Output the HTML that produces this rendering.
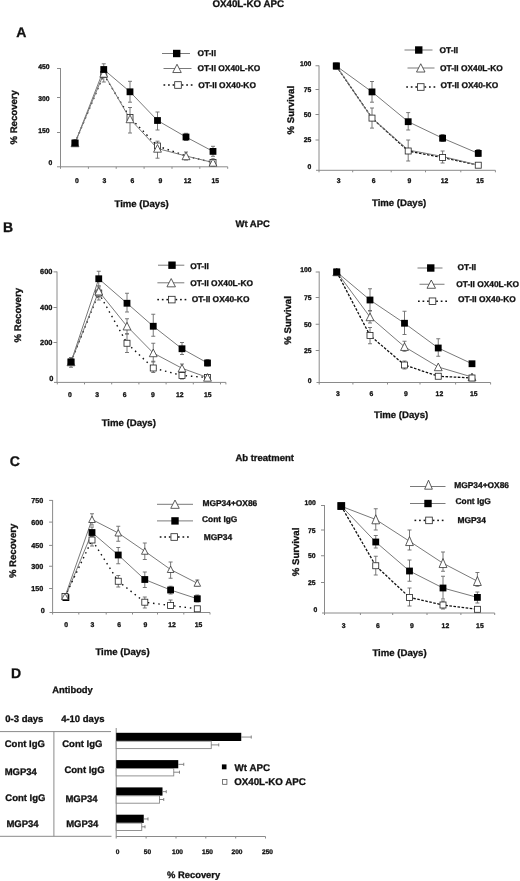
<!DOCTYPE html>
<html><head><meta charset="utf-8"><title>Figure</title><style>html,body{margin:0;padding:0;background:#fff;}body{width:520px;height:881px;overflow:hidden;}svg{display:block;}text{stroke:#111;stroke-width:0.3px;text-rendering:geometricPrecision;}</style></head><body>
<svg width="520" height="881" viewBox="0 0 520 881" font-family="'Liberation Sans', Arial, Helvetica, sans-serif" font-weight="bold" fill="#111">
<rect width="520" height="881" fill="#fff"/>
<text x="248.3" y="7.0" font-size="9.75" text-anchor="middle">OX40L-KO APC</text>
<text x="16.3" y="36.9" font-size="14" text-anchor="start">A</text>
<text x="3.0" y="231.5" font-size="14" text-anchor="start">B</text>
<text x="252.7" y="227.3" font-size="9.5" text-anchor="middle">Wt APC</text>
<text x="9.8" y="465.6" font-size="14" text-anchor="start">C</text>
<text x="264.7" y="461.3" font-size="9.5" text-anchor="middle">Ab treatment</text>
<text x="10.9" y="678.1" font-size="14" text-anchor="start">D</text>
<line x1="60.5" y1="68" x2="60.5" y2="167.3" stroke="#8a8a8a" stroke-width="1"/>
<line x1="57.0" y1="68.5" x2="60.5" y2="68.5" stroke="#8a8a8a" stroke-width="1"/>
<line x1="57.0" y1="97.5" x2="60.5" y2="97.5" stroke="#8a8a8a" stroke-width="1"/>
<line x1="57.0" y1="132.5" x2="60.5" y2="132.5" stroke="#8a8a8a" stroke-width="1"/>
<line x1="57" y1="166.8" x2="227.7" y2="166.8" stroke="#8a8a8a" stroke-width="1"/>
<line x1="60.5" y1="166.8" x2="60.5" y2="168.8" stroke="#8a8a8a" stroke-width="1"/>
<line x1="88.4" y1="166.8" x2="88.4" y2="168.8" stroke="#8a8a8a" stroke-width="1"/>
<line x1="116.2" y1="166.8" x2="116.2" y2="168.8" stroke="#8a8a8a" stroke-width="1"/>
<line x1="144.1" y1="166.8" x2="144.1" y2="168.8" stroke="#8a8a8a" stroke-width="1"/>
<line x1="172.0" y1="166.8" x2="172.0" y2="168.8" stroke="#8a8a8a" stroke-width="1"/>
<line x1="199.8" y1="166.8" x2="199.8" y2="168.8" stroke="#8a8a8a" stroke-width="1"/>
<line x1="227.7" y1="166.8" x2="227.7" y2="168.8" stroke="#8a8a8a" stroke-width="1"/>
<text x="49.6" y="68.7" font-size="6.8" text-anchor="end">450</text>
<text x="49.6" y="101.0" font-size="6.8" text-anchor="end">300</text>
<text x="49.6" y="133.0" font-size="6.8" text-anchor="end">150</text>
<text x="52.3" y="165.3" font-size="6.8" text-anchor="end">0</text>
<text x="77" y="183.3" font-size="6.8" text-anchor="middle">0</text>
<text x="104.5" y="183.3" font-size="6.8" text-anchor="middle">3</text>
<text x="132.5" y="183.3" font-size="6.8" text-anchor="middle">6</text>
<text x="160.3" y="183.3" font-size="6.8" text-anchor="middle">9</text>
<text x="187.5" y="183.3" font-size="6.8" text-anchor="middle">12</text>
<text x="215.2" y="183.3" font-size="6.8" text-anchor="middle">15</text>
<text x="141.6" y="206.8" font-size="9.6" text-anchor="middle">Time (Days)</text>
<text x="0" y="0" font-size="9.6" text-anchor="middle" transform="translate(17.2,117.3) rotate(-90)">% Recovery</text>
<polyline points="75.00,143.00 103.75,74.50 130.00,117.50 157.50,146.00 186.00,156.00 213.00,162.50" fill="none" stroke="#111" stroke-width="1.4" stroke-dasharray="1.5 3.8"/>
<polyline points="75.00,143.00 103.75,73.50 130.00,119.00 157.50,148.50 186.00,156.00 213.00,162.50" fill="none" stroke="#7a7a7a" stroke-width="1.0"/>
<polyline points="75.00,143.10 103.75,69.50 130.00,91.80 157.50,120.50 186.00,137.00 213.00,151.40" fill="none" stroke="#7a7a7a" stroke-width="1.0"/>
<line x1="103.75" y1="72" x2="103.75" y2="72.01" stroke="#6a6a6a" stroke-width="1"/>
<line x1="101.75" y1="72" x2="105.75" y2="72" stroke="#6a6a6a" stroke-width="0.9"/>
<line x1="101.75" y1="82" x2="105.75" y2="82" stroke="#6a6a6a" stroke-width="0.9"/>
<line x1="103.75" y1="72" x2="103.75" y2="82" stroke="#6a6a6a" stroke-width="0.9"/>
<line x1="130" y1="107.5" x2="130" y2="107.51" stroke="#6a6a6a" stroke-width="1"/>
<line x1="128.0" y1="107.5" x2="132.0" y2="107.5" stroke="#6a6a6a" stroke-width="0.9"/>
<line x1="128.0" y1="133" x2="132.0" y2="133" stroke="#6a6a6a" stroke-width="0.9"/>
<line x1="130" y1="107.5" x2="130" y2="133" stroke="#6a6a6a" stroke-width="0.9"/>
<line x1="157.5" y1="141.2" x2="157.5" y2="141.20999999999998" stroke="#6a6a6a" stroke-width="1"/>
<line x1="155.5" y1="141.2" x2="159.5" y2="141.2" stroke="#6a6a6a" stroke-width="0.9"/>
<line x1="155.5" y1="158.2" x2="159.5" y2="158.2" stroke="#6a6a6a" stroke-width="0.9"/>
<line x1="157.5" y1="141.2" x2="157.5" y2="158.2" stroke="#6a6a6a" stroke-width="0.9"/>
<line x1="186" y1="152" x2="186" y2="152.01" stroke="#6a6a6a" stroke-width="1"/>
<line x1="184.0" y1="152" x2="188.0" y2="152" stroke="#6a6a6a" stroke-width="0.9"/>
<line x1="184.0" y1="160" x2="188.0" y2="160" stroke="#6a6a6a" stroke-width="0.9"/>
<line x1="186" y1="152" x2="186" y2="160" stroke="#6a6a6a" stroke-width="0.9"/>
<line x1="213" y1="159" x2="213" y2="159.01" stroke="#6a6a6a" stroke-width="1"/>
<line x1="211.0" y1="159" x2="215.0" y2="159" stroke="#6a6a6a" stroke-width="0.9"/>
<line x1="211.0" y1="166" x2="215.0" y2="166" stroke="#6a6a6a" stroke-width="0.9"/>
<line x1="213" y1="159" x2="213" y2="166" stroke="#6a6a6a" stroke-width="0.9"/>
<line x1="75" y1="140" x2="75" y2="140.01" stroke="#6a6a6a" stroke-width="1"/>
<line x1="73.0" y1="140" x2="77.0" y2="140" stroke="#6a6a6a" stroke-width="0.9"/>
<line x1="73.0" y1="146" x2="77.0" y2="146" stroke="#6a6a6a" stroke-width="0.9"/>
<line x1="75" y1="140" x2="75" y2="146" stroke="#6a6a6a" stroke-width="0.9"/>
<line x1="103.75" y1="63.8" x2="103.75" y2="63.809999999999995" stroke="#6a6a6a" stroke-width="1"/>
<line x1="101.75" y1="63.8" x2="105.75" y2="63.8" stroke="#6a6a6a" stroke-width="0.9"/>
<line x1="101.75" y1="73" x2="105.75" y2="73" stroke="#6a6a6a" stroke-width="0.9"/>
<line x1="103.75" y1="63.8" x2="103.75" y2="73" stroke="#6a6a6a" stroke-width="0.9"/>
<line x1="130" y1="81.3" x2="130" y2="81.31" stroke="#6a6a6a" stroke-width="1"/>
<line x1="128.0" y1="81.3" x2="132.0" y2="81.3" stroke="#6a6a6a" stroke-width="0.9"/>
<line x1="128.0" y1="102.2" x2="132.0" y2="102.2" stroke="#6a6a6a" stroke-width="0.9"/>
<line x1="130" y1="81.3" x2="130" y2="102.2" stroke="#6a6a6a" stroke-width="0.9"/>
<line x1="157.5" y1="112" x2="157.5" y2="112.01" stroke="#6a6a6a" stroke-width="1"/>
<line x1="155.5" y1="112" x2="159.5" y2="112" stroke="#6a6a6a" stroke-width="0.9"/>
<line x1="155.5" y1="130" x2="159.5" y2="130" stroke="#6a6a6a" stroke-width="0.9"/>
<line x1="157.5" y1="112" x2="157.5" y2="130" stroke="#6a6a6a" stroke-width="0.9"/>
<line x1="186" y1="133.3" x2="186" y2="133.31" stroke="#6a6a6a" stroke-width="1"/>
<line x1="184.0" y1="133.3" x2="188.0" y2="133.3" stroke="#6a6a6a" stroke-width="0.9"/>
<line x1="184.0" y1="140.5" x2="188.0" y2="140.5" stroke="#6a6a6a" stroke-width="0.9"/>
<line x1="186" y1="133.3" x2="186" y2="140.5" stroke="#6a6a6a" stroke-width="0.9"/>
<line x1="213" y1="146.3" x2="213" y2="146.31" stroke="#6a6a6a" stroke-width="1"/>
<line x1="211.0" y1="146.3" x2="215.0" y2="146.3" stroke="#6a6a6a" stroke-width="0.9"/>
<line x1="211.0" y1="156.3" x2="215.0" y2="156.3" stroke="#6a6a6a" stroke-width="0.9"/>
<line x1="213" y1="146.3" x2="213" y2="156.3" stroke="#6a6a6a" stroke-width="0.9"/>
<rect x="72.00" y="140.00" width="6.00" height="6.00" fill="#fff" stroke="#222" stroke-width="0.8"/>
<rect x="100.75" y="71.50" width="6.00" height="6.00" fill="#fff" stroke="#222" stroke-width="0.8"/>
<rect x="127.00" y="114.50" width="6.00" height="6.00" fill="#fff" stroke="#222" stroke-width="0.8"/>
<rect x="154.50" y="143.00" width="6.00" height="6.00" fill="#fff" stroke="#222" stroke-width="0.8"/>
<rect x="210.00" y="159.50" width="6.00" height="6.00" fill="#fff" stroke="#222" stroke-width="0.8"/>
<polygon points="75.00,139.09 78.91,146.71 71.09,146.71" fill="#fff" stroke="#333" stroke-width="0.8"/>
<polygon points="103.75,69.59 107.66,77.21 99.84,77.21" fill="#fff" stroke="#333" stroke-width="0.8"/>
<polygon points="130.00,115.09 133.91,122.71 126.09,122.71" fill="#fff" stroke="#333" stroke-width="0.8"/>
<polygon points="157.50,144.59 161.41,152.21 153.59,152.21" fill="#fff" stroke="#333" stroke-width="0.8"/>
<polygon points="186.00,152.09 189.91,159.71 182.09,159.71" fill="#fff" stroke="#333" stroke-width="0.8"/>
<polygon points="213.00,158.59 216.91,166.21 209.09,166.21" fill="#fff" stroke="#333" stroke-width="0.8"/>
<rect x="71.60" y="139.70" width="6.8" height="6.8" fill="#000"/>
<rect x="100.35" y="66.10" width="6.8" height="6.8" fill="#000"/>
<rect x="126.60" y="88.40" width="6.8" height="6.8" fill="#000"/>
<rect x="154.10" y="117.10" width="6.8" height="6.8" fill="#000"/>
<rect x="182.60" y="133.60" width="6.8" height="6.8" fill="#000"/>
<rect x="209.60" y="148.00" width="6.8" height="6.8" fill="#000"/>
<line x1="162" y1="53.5" x2="190" y2="53.5" stroke="#7a7a7a" stroke-width="1.0"/>
<rect x="173.00" y="49.80" width="7.4" height="7.4" fill="#000"/>
<text x="197.4" y="55.9" font-size="8.4" text-anchor="start">OT-II</text>
<line x1="163.5" y1="68.5" x2="191.5" y2="68.5" stroke="#7a7a7a" stroke-width="1.0"/>
<polygon points="177.00,64.25 181.25,72.54 172.75,72.54" fill="#fff" stroke="#333" stroke-width="0.8"/>
<text x="197.4" y="71.45" font-size="8.4" text-anchor="start">OT-II OX40L-KO</text>
<rect x="172.60" y="84.25" width="1.7" height="1.5" fill="#111"/>
<rect x="181.70" y="84.25" width="1.7" height="1.5" fill="#111"/>
<rect x="168.05" y="84.25" width="1.7" height="1.5" fill="#111"/>
<rect x="186.25" y="84.25" width="1.7" height="1.5" fill="#111"/>
<rect x="163.50" y="84.25" width="1.7" height="1.5" fill="#111"/>
<rect x="190.80" y="84.25" width="1.7" height="1.5" fill="#111"/>
<rect x="174.70" y="81.70" width="6.60" height="6.60" fill="#fff" stroke="#222" stroke-width="0.8"/>
<text x="198.2" y="87.9" font-size="8.4" text-anchor="start">OT-II OX40-KO</text>
<line x1="319" y1="65.5" x2="319" y2="170.8" stroke="#8a8a8a" stroke-width="1"/>
<line x1="315.5" y1="65.75" x2="319" y2="65.75" stroke="#8a8a8a" stroke-width="1"/>
<line x1="315.5" y1="89.5" x2="319" y2="89.5" stroke="#8a8a8a" stroke-width="1"/>
<line x1="315.5" y1="114.5" x2="319" y2="114.5" stroke="#8a8a8a" stroke-width="1"/>
<line x1="315.5" y1="140" x2="319" y2="140" stroke="#8a8a8a" stroke-width="1"/>
<line x1="316" y1="170.3" x2="495.4" y2="170.3" stroke="#8a8a8a" stroke-width="1"/>
<line x1="319" y1="170.3" x2="319" y2="172.3" stroke="#8a8a8a" stroke-width="1"/>
<line x1="352.7" y1="170.3" x2="352.7" y2="172.3" stroke="#8a8a8a" stroke-width="1"/>
<line x1="391.2" y1="170.3" x2="391.2" y2="172.3" stroke="#8a8a8a" stroke-width="1"/>
<line x1="425.5" y1="170.3" x2="425.5" y2="172.3" stroke="#8a8a8a" stroke-width="1"/>
<line x1="460.8" y1="170.3" x2="460.8" y2="172.3" stroke="#8a8a8a" stroke-width="1"/>
<line x1="495.4" y1="170.3" x2="495.4" y2="172.3" stroke="#8a8a8a" stroke-width="1"/>
<text x="311.4" y="65.6" font-size="6.8" text-anchor="end">100</text>
<text x="311.4" y="92.0" font-size="6.8" text-anchor="end">75</text>
<text x="311.4" y="116.8" font-size="6.8" text-anchor="end">50</text>
<text x="311.4" y="142.3" font-size="6.8" text-anchor="end">25</text>
<text x="311.4" y="168.6" font-size="6.8" text-anchor="end">0</text>
<text x="338.75" y="183.3" font-size="6.8" text-anchor="middle">3</text>
<text x="373.75" y="183.3" font-size="6.8" text-anchor="middle">6</text>
<text x="409.5" y="183.3" font-size="6.8" text-anchor="middle">9</text>
<text x="444.5" y="183.3" font-size="6.8" text-anchor="middle">12</text>
<text x="480" y="183.3" font-size="6.8" text-anchor="middle">15</text>
<text x="399.1" y="205.8" font-size="9.6" text-anchor="middle">Time (Days)</text>
<text x="0" y="0" font-size="9.6" text-anchor="middle" transform="translate(293.8,110.2) rotate(-90)">% Survival</text>
<polyline points="336.30,66.00 372.00,118.10 408.20,151.00 442.60,157.50 478.25,165.20" fill="none" stroke="#111" stroke-width="1.3" stroke-dasharray="2.6 1.5"/>
<polyline points="336.30,66.00 372.00,118.10 408.20,150.00 442.60,156.50 478.25,165.00" fill="none" stroke="#7a7a7a" stroke-width="1.0"/>
<polyline points="336.30,66.00 372.00,91.90 408.20,121.70 442.60,138.20 478.25,153.40" fill="none" stroke="#7a7a7a" stroke-width="1.0"/>
<line x1="372" y1="108" x2="372" y2="108.01" stroke="#6a6a6a" stroke-width="1"/>
<line x1="370.0" y1="108" x2="374.0" y2="108" stroke="#6a6a6a" stroke-width="0.9"/>
<line x1="370.0" y1="128.1" x2="374.0" y2="128.1" stroke="#6a6a6a" stroke-width="0.9"/>
<line x1="372" y1="108" x2="372" y2="128.1" stroke="#6a6a6a" stroke-width="0.9"/>
<line x1="408.2" y1="140" x2="408.2" y2="140.01" stroke="#6a6a6a" stroke-width="1"/>
<line x1="406.2" y1="140" x2="410.2" y2="140" stroke="#6a6a6a" stroke-width="0.9"/>
<line x1="406.2" y1="161" x2="410.2" y2="161" stroke="#6a6a6a" stroke-width="0.9"/>
<line x1="408.2" y1="140" x2="408.2" y2="161" stroke="#6a6a6a" stroke-width="0.9"/>
<line x1="442.6" y1="151" x2="442.6" y2="151.01" stroke="#6a6a6a" stroke-width="1"/>
<line x1="440.6" y1="151" x2="444.6" y2="151" stroke="#6a6a6a" stroke-width="0.9"/>
<line x1="440.6" y1="163" x2="444.6" y2="163" stroke="#6a6a6a" stroke-width="0.9"/>
<line x1="442.6" y1="151" x2="442.6" y2="163" stroke="#6a6a6a" stroke-width="0.9"/>
<line x1="336.3" y1="63" x2="336.3" y2="63.01" stroke="#6a6a6a" stroke-width="1"/>
<line x1="334.3" y1="63" x2="338.3" y2="63" stroke="#6a6a6a" stroke-width="0.9"/>
<line x1="334.3" y1="69" x2="338.3" y2="69" stroke="#6a6a6a" stroke-width="0.9"/>
<line x1="336.3" y1="63" x2="336.3" y2="69" stroke="#6a6a6a" stroke-width="0.9"/>
<line x1="372" y1="81.5" x2="372" y2="81.51" stroke="#6a6a6a" stroke-width="1"/>
<line x1="370.0" y1="81.5" x2="374.0" y2="81.5" stroke="#6a6a6a" stroke-width="0.9"/>
<line x1="370.0" y1="102.2" x2="374.0" y2="102.2" stroke="#6a6a6a" stroke-width="0.9"/>
<line x1="372" y1="81.5" x2="372" y2="102.2" stroke="#6a6a6a" stroke-width="0.9"/>
<line x1="408.2" y1="112.6" x2="408.2" y2="112.61" stroke="#6a6a6a" stroke-width="1"/>
<line x1="406.2" y1="112.6" x2="410.2" y2="112.6" stroke="#6a6a6a" stroke-width="0.9"/>
<line x1="406.2" y1="130" x2="410.2" y2="130" stroke="#6a6a6a" stroke-width="0.9"/>
<line x1="408.2" y1="112.6" x2="408.2" y2="130" stroke="#6a6a6a" stroke-width="0.9"/>
<line x1="442.6" y1="134.5" x2="442.6" y2="134.51" stroke="#6a6a6a" stroke-width="1"/>
<line x1="440.6" y1="134.5" x2="444.6" y2="134.5" stroke="#6a6a6a" stroke-width="0.9"/>
<line x1="440.6" y1="141.5" x2="444.6" y2="141.5" stroke="#6a6a6a" stroke-width="0.9"/>
<line x1="442.6" y1="134.5" x2="442.6" y2="141.5" stroke="#6a6a6a" stroke-width="0.9"/>
<line x1="478.25" y1="149.5" x2="478.25" y2="149.51" stroke="#6a6a6a" stroke-width="1"/>
<line x1="476.25" y1="149.5" x2="480.25" y2="149.5" stroke="#6a6a6a" stroke-width="0.9"/>
<line x1="476.25" y1="156.5" x2="480.25" y2="156.5" stroke="#6a6a6a" stroke-width="0.9"/>
<line x1="478.25" y1="149.5" x2="478.25" y2="156.5" stroke="#6a6a6a" stroke-width="0.9"/>
<rect x="333.30" y="63.00" width="6.00" height="6.00" fill="#fff" stroke="#222" stroke-width="0.8"/>
<rect x="369.00" y="115.10" width="6.00" height="6.00" fill="#fff" stroke="#222" stroke-width="0.8"/>
<rect x="405.20" y="148.00" width="6.00" height="6.00" fill="#fff" stroke="#222" stroke-width="0.8"/>
<rect x="439.60" y="154.50" width="6.00" height="6.00" fill="#fff" stroke="#222" stroke-width="0.8"/>
<rect x="475.25" y="162.20" width="6.00" height="6.00" fill="#fff" stroke="#222" stroke-width="0.8"/>
<rect x="332.90" y="62.60" width="6.8" height="6.8" fill="#000"/>
<rect x="368.60" y="88.50" width="6.8" height="6.8" fill="#000"/>
<rect x="404.80" y="118.30" width="6.8" height="6.8" fill="#000"/>
<rect x="439.20" y="134.80" width="6.8" height="6.8" fill="#000"/>
<rect x="474.85" y="150.00" width="6.8" height="6.8" fill="#000"/>
<line x1="404.5" y1="50" x2="432.5" y2="50" stroke="#7a7a7a" stroke-width="1.0"/>
<rect x="415.05" y="46.30" width="7.4" height="7.4" fill="#000"/>
<text x="439.5" y="53.25" font-size="8.4" text-anchor="start">OT-II</text>
<line x1="407.5" y1="68" x2="434.5" y2="68" stroke="#7a7a7a" stroke-width="1.0"/>
<polygon points="420.75,63.74 425.00,72.04 416.50,72.04" fill="#fff" stroke="#333" stroke-width="0.8"/>
<text x="440" y="70.85" font-size="8.4" text-anchor="start">OT-II OX40L-KO</text>
<rect x="415.35" y="86.25" width="1.7" height="1.5" fill="#111"/>
<rect x="424.45" y="86.25" width="1.7" height="1.5" fill="#111"/>
<rect x="410.80" y="86.25" width="1.7" height="1.5" fill="#111"/>
<rect x="429.00" y="86.25" width="1.7" height="1.5" fill="#111"/>
<rect x="406.25" y="86.25" width="1.7" height="1.5" fill="#111"/>
<rect x="433.55" y="86.25" width="1.7" height="1.5" fill="#111"/>
<rect x="417.45" y="83.70" width="6.60" height="6.60" fill="#fff" stroke="#222" stroke-width="0.8"/>
<text x="440.5" y="88.25" font-size="8.4" text-anchor="start">OT-II OX40-KO</text>
<line x1="57" y1="271.5" x2="57" y2="382.9" stroke="#8a8a8a" stroke-width="1"/>
<line x1="53.5" y1="271.9" x2="57" y2="271.9" stroke="#8a8a8a" stroke-width="1"/>
<line x1="53.5" y1="307.5" x2="57" y2="307.5" stroke="#8a8a8a" stroke-width="1"/>
<line x1="53.5" y1="342.5" x2="57" y2="342.5" stroke="#8a8a8a" stroke-width="1"/>
<line x1="54" y1="382.4" x2="225.9" y2="382.4" stroke="#8a8a8a" stroke-width="1"/>
<line x1="57.3" y1="382.4" x2="57.3" y2="384.4" stroke="#8a8a8a" stroke-width="1"/>
<line x1="84.5" y1="382.4" x2="84.5" y2="384.4" stroke="#8a8a8a" stroke-width="1"/>
<line x1="111.7" y1="382.4" x2="111.7" y2="384.4" stroke="#8a8a8a" stroke-width="1"/>
<line x1="138.9" y1="382.4" x2="138.9" y2="384.4" stroke="#8a8a8a" stroke-width="1"/>
<line x1="166.1" y1="382.4" x2="166.1" y2="384.4" stroke="#8a8a8a" stroke-width="1"/>
<line x1="193.3" y1="382.4" x2="193.3" y2="384.4" stroke="#8a8a8a" stroke-width="1"/>
<line x1="220.5" y1="382.4" x2="220.5" y2="384.4" stroke="#8a8a8a" stroke-width="1"/>
<line x1="225.9" y1="382.4" x2="225.9" y2="384.4" stroke="#8a8a8a" stroke-width="1"/>
<text x="52.4" y="274.3" font-size="7.4" text-anchor="end">600</text>
<text x="52.4" y="309.9" font-size="7.4" text-anchor="end">400</text>
<text x="52.4" y="344.9" font-size="7.4" text-anchor="end">200</text>
<text x="53.3" y="381.1" font-size="7.4" text-anchor="end">0</text>
<text x="70" y="397" font-size="6.8" text-anchor="middle">0</text>
<text x="97.2" y="397" font-size="6.8" text-anchor="middle">3</text>
<text x="124.7" y="397" font-size="6.8" text-anchor="middle">6</text>
<text x="152.8" y="397" font-size="6.8" text-anchor="middle">9</text>
<text x="179.8" y="397" font-size="6.8" text-anchor="middle">12</text>
<text x="207.8" y="397" font-size="6.8" text-anchor="middle">15</text>
<text x="128.8" y="426.3" font-size="9.6" text-anchor="middle">Time (Days)</text>
<text x="0" y="0" font-size="9.6" text-anchor="middle" transform="translate(21.4,315.2) rotate(-90)">% Recovery</text>
<polyline points="71.00,362.00 98.75,293.00 127.00,343.25 153.25,368.00 182.00,375.50 207.50,377.50" fill="none" stroke="#111" stroke-width="1.4" stroke-dasharray="1.5 3.8"/>
<polyline points="71.00,362.00 98.75,291.25 127.00,326.25 153.25,353.00 182.00,368.25 207.50,377.50" fill="none" stroke="#7a7a7a" stroke-width="1.0"/>
<polyline points="71.00,362.00 98.75,278.75 127.00,303.25 153.25,326.25 182.00,348.75 207.50,363.00" fill="none" stroke="#7a7a7a" stroke-width="1.0"/>
<line x1="98.75" y1="288" x2="98.75" y2="288.01" stroke="#6a6a6a" stroke-width="1"/>
<line x1="96.75" y1="288" x2="100.75" y2="288" stroke="#6a6a6a" stroke-width="0.9"/>
<line x1="96.75" y1="300" x2="100.75" y2="300" stroke="#6a6a6a" stroke-width="0.9"/>
<line x1="98.75" y1="288" x2="98.75" y2="300" stroke="#6a6a6a" stroke-width="0.9"/>
<line x1="127" y1="333.75" x2="127" y2="333.76" stroke="#6a6a6a" stroke-width="1"/>
<line x1="125.0" y1="333.75" x2="129.0" y2="333.75" stroke="#6a6a6a" stroke-width="0.9"/>
<line x1="125.0" y1="352.5" x2="129.0" y2="352.5" stroke="#6a6a6a" stroke-width="0.9"/>
<line x1="127" y1="333.75" x2="127" y2="352.5" stroke="#6a6a6a" stroke-width="0.9"/>
<line x1="153.25" y1="361.25" x2="153.25" y2="361.26" stroke="#6a6a6a" stroke-width="1"/>
<line x1="151.25" y1="361.25" x2="155.25" y2="361.25" stroke="#6a6a6a" stroke-width="0.9"/>
<line x1="151.25" y1="372.5" x2="155.25" y2="372.5" stroke="#6a6a6a" stroke-width="0.9"/>
<line x1="153.25" y1="361.25" x2="153.25" y2="372.5" stroke="#6a6a6a" stroke-width="0.9"/>
<line x1="182" y1="372" x2="182" y2="372.01" stroke="#6a6a6a" stroke-width="1"/>
<line x1="180.0" y1="372" x2="184.0" y2="372" stroke="#6a6a6a" stroke-width="0.9"/>
<line x1="180.0" y1="379" x2="184.0" y2="379" stroke="#6a6a6a" stroke-width="0.9"/>
<line x1="182" y1="372" x2="182" y2="379" stroke="#6a6a6a" stroke-width="0.9"/>
<line x1="98.75" y1="286" x2="98.75" y2="286.01" stroke="#6a6a6a" stroke-width="1"/>
<line x1="96.75" y1="286" x2="100.75" y2="286" stroke="#6a6a6a" stroke-width="0.9"/>
<line x1="96.75" y1="297" x2="100.75" y2="297" stroke="#6a6a6a" stroke-width="0.9"/>
<line x1="98.75" y1="286" x2="98.75" y2="297" stroke="#6a6a6a" stroke-width="0.9"/>
<line x1="127" y1="318.75" x2="127" y2="318.76" stroke="#6a6a6a" stroke-width="1"/>
<line x1="125.0" y1="318.75" x2="129.0" y2="318.75" stroke="#6a6a6a" stroke-width="0.9"/>
<line x1="125.0" y1="334" x2="129.0" y2="334" stroke="#6a6a6a" stroke-width="0.9"/>
<line x1="127" y1="318.75" x2="127" y2="334" stroke="#6a6a6a" stroke-width="0.9"/>
<line x1="153.25" y1="343.25" x2="153.25" y2="343.26" stroke="#6a6a6a" stroke-width="1"/>
<line x1="151.25" y1="343.25" x2="155.25" y2="343.25" stroke="#6a6a6a" stroke-width="0.9"/>
<line x1="151.25" y1="362" x2="155.25" y2="362" stroke="#6a6a6a" stroke-width="0.9"/>
<line x1="153.25" y1="343.25" x2="153.25" y2="362" stroke="#6a6a6a" stroke-width="0.9"/>
<line x1="182" y1="364" x2="182" y2="364.01" stroke="#6a6a6a" stroke-width="1"/>
<line x1="180.0" y1="364" x2="184.0" y2="364" stroke="#6a6a6a" stroke-width="0.9"/>
<line x1="180.0" y1="372" x2="184.0" y2="372" stroke="#6a6a6a" stroke-width="0.9"/>
<line x1="182" y1="364" x2="182" y2="372" stroke="#6a6a6a" stroke-width="0.9"/>
<line x1="71" y1="357.5" x2="71" y2="357.51" stroke="#6a6a6a" stroke-width="1"/>
<line x1="69.0" y1="357.5" x2="73.0" y2="357.5" stroke="#6a6a6a" stroke-width="0.9"/>
<line x1="69.0" y1="367.25" x2="73.0" y2="367.25" stroke="#6a6a6a" stroke-width="0.9"/>
<line x1="71" y1="357.5" x2="71" y2="367.25" stroke="#6a6a6a" stroke-width="0.9"/>
<line x1="98.75" y1="271.25" x2="98.75" y2="271.26" stroke="#6a6a6a" stroke-width="1"/>
<line x1="96.75" y1="271.25" x2="100.75" y2="271.25" stroke="#6a6a6a" stroke-width="0.9"/>
<line x1="96.75" y1="286" x2="100.75" y2="286" stroke="#6a6a6a" stroke-width="0.9"/>
<line x1="98.75" y1="271.25" x2="98.75" y2="286" stroke="#6a6a6a" stroke-width="0.9"/>
<line x1="127" y1="293.25" x2="127" y2="293.26" stroke="#6a6a6a" stroke-width="1"/>
<line x1="125.0" y1="293.25" x2="129.0" y2="293.25" stroke="#6a6a6a" stroke-width="0.9"/>
<line x1="125.0" y1="312" x2="129.0" y2="312" stroke="#6a6a6a" stroke-width="0.9"/>
<line x1="127" y1="293.25" x2="127" y2="312" stroke="#6a6a6a" stroke-width="0.9"/>
<line x1="153.25" y1="314.25" x2="153.25" y2="314.26" stroke="#6a6a6a" stroke-width="1"/>
<line x1="151.25" y1="314.25" x2="155.25" y2="314.25" stroke="#6a6a6a" stroke-width="0.9"/>
<line x1="151.25" y1="336.25" x2="155.25" y2="336.25" stroke="#6a6a6a" stroke-width="0.9"/>
<line x1="153.25" y1="314.25" x2="153.25" y2="336.25" stroke="#6a6a6a" stroke-width="0.9"/>
<line x1="182" y1="342.5" x2="182" y2="342.51" stroke="#6a6a6a" stroke-width="1"/>
<line x1="180.0" y1="342.5" x2="184.0" y2="342.5" stroke="#6a6a6a" stroke-width="0.9"/>
<line x1="180.0" y1="354.5" x2="184.0" y2="354.5" stroke="#6a6a6a" stroke-width="0.9"/>
<line x1="182" y1="342.5" x2="182" y2="354.5" stroke="#6a6a6a" stroke-width="0.9"/>
<line x1="207.5" y1="359.5" x2="207.5" y2="359.51" stroke="#6a6a6a" stroke-width="1"/>
<line x1="205.5" y1="359.5" x2="209.5" y2="359.5" stroke="#6a6a6a" stroke-width="0.9"/>
<line x1="205.5" y1="366" x2="209.5" y2="366" stroke="#6a6a6a" stroke-width="0.9"/>
<line x1="207.5" y1="359.5" x2="207.5" y2="366" stroke="#6a6a6a" stroke-width="0.9"/>
<rect x="68.00" y="359.00" width="6.00" height="6.00" fill="#fff" stroke="#222" stroke-width="0.8"/>
<rect x="95.75" y="290.00" width="6.00" height="6.00" fill="#fff" stroke="#222" stroke-width="0.8"/>
<rect x="124.00" y="340.25" width="6.00" height="6.00" fill="#fff" stroke="#222" stroke-width="0.8"/>
<rect x="150.25" y="365.00" width="6.00" height="6.00" fill="#fff" stroke="#222" stroke-width="0.8"/>
<rect x="179.00" y="372.50" width="6.00" height="6.00" fill="#fff" stroke="#222" stroke-width="0.8"/>
<rect x="204.50" y="374.50" width="6.00" height="6.00" fill="#fff" stroke="#222" stroke-width="0.8"/>
<polygon points="71.00,358.09 74.91,365.71 67.09,365.71" fill="#fff" stroke="#333" stroke-width="0.8"/>
<polygon points="98.75,287.34 102.66,294.96 94.84,294.96" fill="#fff" stroke="#333" stroke-width="0.8"/>
<polygon points="127.00,322.34 130.91,329.96 123.09,329.96" fill="#fff" stroke="#333" stroke-width="0.8"/>
<polygon points="153.25,349.09 157.16,356.71 149.34,356.71" fill="#fff" stroke="#333" stroke-width="0.8"/>
<polygon points="182.00,364.34 185.91,371.96 178.09,371.96" fill="#fff" stroke="#333" stroke-width="0.8"/>
<polygon points="207.50,373.59 211.41,381.21 203.59,381.21" fill="#fff" stroke="#333" stroke-width="0.8"/>
<rect x="67.60" y="358.60" width="6.8" height="6.8" fill="#000"/>
<rect x="95.35" y="275.35" width="6.8" height="6.8" fill="#000"/>
<rect x="123.60" y="299.85" width="6.8" height="6.8" fill="#000"/>
<rect x="149.85" y="322.85" width="6.8" height="6.8" fill="#000"/>
<rect x="178.60" y="345.35" width="6.8" height="6.8" fill="#000"/>
<rect x="204.10" y="359.60" width="6.8" height="6.8" fill="#000"/>
<line x1="158" y1="265.2" x2="184.3" y2="265.2" stroke="#7a7a7a" stroke-width="1.0"/>
<rect x="168.30" y="261.50" width="7.4" height="7.4" fill="#000"/>
<text x="190.2" y="268.6" font-size="8.4" text-anchor="start">OT-II</text>
<line x1="157.4" y1="282.8" x2="184.3" y2="282.8" stroke="#7a7a7a" stroke-width="1.0"/>
<polygon points="171.20,278.55 175.45,286.84 166.94,286.84" fill="#fff" stroke="#333" stroke-width="0.8"/>
<text x="190.2" y="285.5" font-size="8.4" text-anchor="start">OT-II OX40L-KO</text>
<rect x="166.40" y="298.85" width="1.7" height="1.5" fill="#111"/>
<rect x="175.50" y="298.85" width="1.7" height="1.5" fill="#111"/>
<rect x="161.85" y="298.85" width="1.7" height="1.5" fill="#111"/>
<rect x="180.05" y="298.85" width="1.7" height="1.5" fill="#111"/>
<rect x="157.30" y="298.85" width="1.7" height="1.5" fill="#111"/>
<rect x="184.60" y="298.85" width="1.7" height="1.5" fill="#111"/>
<rect x="168.50" y="296.30" width="6.60" height="6.60" fill="#fff" stroke="#222" stroke-width="0.8"/>
<text x="191.7" y="302.0" font-size="8.4" text-anchor="start">OT-II OX40-KO</text>
<line x1="319.2" y1="271.5" x2="319.2" y2="383.0" stroke="#8a8a8a" stroke-width="1"/>
<line x1="315.7" y1="272" x2="319.2" y2="272" stroke="#8a8a8a" stroke-width="1"/>
<line x1="315.7" y1="297.5" x2="319.2" y2="297.5" stroke="#8a8a8a" stroke-width="1"/>
<line x1="315.7" y1="324.25" x2="319.2" y2="324.25" stroke="#8a8a8a" stroke-width="1"/>
<line x1="315.7" y1="350.5" x2="319.2" y2="350.5" stroke="#8a8a8a" stroke-width="1"/>
<line x1="316.5" y1="382.5" x2="490.6" y2="382.5" stroke="#8a8a8a" stroke-width="1"/>
<line x1="319.2" y1="382.5" x2="319.2" y2="384.5" stroke="#8a8a8a" stroke-width="1"/>
<line x1="352.9" y1="382.5" x2="352.9" y2="384.5" stroke="#8a8a8a" stroke-width="1"/>
<line x1="387.5" y1="382.5" x2="387.5" y2="384.5" stroke="#8a8a8a" stroke-width="1"/>
<line x1="420.0" y1="382.5" x2="420.0" y2="384.5" stroke="#8a8a8a" stroke-width="1"/>
<line x1="455.6" y1="382.5" x2="455.6" y2="384.5" stroke="#8a8a8a" stroke-width="1"/>
<line x1="490.6" y1="382.5" x2="490.6" y2="384.5" stroke="#8a8a8a" stroke-width="1"/>
<text x="311.5" y="272.1" font-size="6.8" text-anchor="end">100</text>
<text x="311.5" y="300" font-size="6.8" text-anchor="end">75</text>
<text x="311.5" y="326.7" font-size="6.8" text-anchor="end">50</text>
<text x="311.5" y="353" font-size="6.8" text-anchor="end">25</text>
<text x="311.5" y="382.6" font-size="6.8" text-anchor="end">0</text>
<text x="337.9" y="395.8" font-size="6.8" text-anchor="middle">3</text>
<text x="371.5" y="395.8" font-size="6.8" text-anchor="middle">6</text>
<text x="405.9" y="395.8" font-size="6.8" text-anchor="middle">9</text>
<text x="439.4" y="395.8" font-size="6.8" text-anchor="middle">12</text>
<text x="473.8" y="395.8" font-size="6.8" text-anchor="middle">15</text>
<text x="401.1" y="417.9" font-size="9.6" text-anchor="middle">Time (Days)</text>
<text x="0" y="0" font-size="9.6" text-anchor="middle" transform="translate(291.25,320.4) rotate(-90)">% Survival</text>
<polyline points="336.75,272.00 370.00,317.00 404.50,346.75 438.25,367.00 472.00,377.00" fill="none" stroke="#7a7a7a" stroke-width="1.0"/>
<polyline points="336.75,272.00 370.00,335.50 404.50,365.00 438.25,376.25 472.00,378.00" fill="none" stroke="#111" stroke-width="1.3" stroke-dasharray="2.6 1.5"/>
<polyline points="336.75,272.00 370.00,300.00 404.50,323.25 438.25,348.00 472.00,363.75" fill="none" stroke="#7a7a7a" stroke-width="1.0"/>
<line x1="370" y1="310.5" x2="370" y2="310.51" stroke="#6a6a6a" stroke-width="1"/>
<line x1="368.0" y1="310.5" x2="372.0" y2="310.5" stroke="#6a6a6a" stroke-width="0.9"/>
<line x1="368.0" y1="323" x2="372.0" y2="323" stroke="#6a6a6a" stroke-width="0.9"/>
<line x1="370" y1="310.5" x2="370" y2="323" stroke="#6a6a6a" stroke-width="0.9"/>
<line x1="404.5" y1="341.25" x2="404.5" y2="341.26" stroke="#6a6a6a" stroke-width="1"/>
<line x1="402.5" y1="341.25" x2="406.5" y2="341.25" stroke="#6a6a6a" stroke-width="0.9"/>
<line x1="402.5" y1="351.25" x2="406.5" y2="351.25" stroke="#6a6a6a" stroke-width="0.9"/>
<line x1="404.5" y1="341.25" x2="404.5" y2="351.25" stroke="#6a6a6a" stroke-width="0.9"/>
<line x1="370" y1="327.5" x2="370" y2="327.51" stroke="#6a6a6a" stroke-width="1"/>
<line x1="368.0" y1="327.5" x2="372.0" y2="327.5" stroke="#6a6a6a" stroke-width="0.9"/>
<line x1="368.0" y1="343.75" x2="372.0" y2="343.75" stroke="#6a6a6a" stroke-width="0.9"/>
<line x1="370" y1="327.5" x2="370" y2="343.75" stroke="#6a6a6a" stroke-width="0.9"/>
<line x1="404.5" y1="361" x2="404.5" y2="361.01" stroke="#6a6a6a" stroke-width="1"/>
<line x1="402.5" y1="361" x2="406.5" y2="361" stroke="#6a6a6a" stroke-width="0.9"/>
<line x1="402.5" y1="369" x2="406.5" y2="369" stroke="#6a6a6a" stroke-width="0.9"/>
<line x1="404.5" y1="361" x2="404.5" y2="369" stroke="#6a6a6a" stroke-width="0.9"/>
<line x1="370" y1="288.75" x2="370" y2="288.76" stroke="#6a6a6a" stroke-width="1"/>
<line x1="368.0" y1="288.75" x2="372.0" y2="288.75" stroke="#6a6a6a" stroke-width="0.9"/>
<line x1="368.0" y1="311" x2="372.0" y2="311" stroke="#6a6a6a" stroke-width="0.9"/>
<line x1="370" y1="288.75" x2="370" y2="311" stroke="#6a6a6a" stroke-width="0.9"/>
<line x1="404.5" y1="311.25" x2="404.5" y2="311.26" stroke="#6a6a6a" stroke-width="1"/>
<line x1="402.5" y1="311.25" x2="406.5" y2="311.25" stroke="#6a6a6a" stroke-width="0.9"/>
<line x1="402.5" y1="334.5" x2="406.5" y2="334.5" stroke="#6a6a6a" stroke-width="0.9"/>
<line x1="404.5" y1="311.25" x2="404.5" y2="334.5" stroke="#6a6a6a" stroke-width="0.9"/>
<line x1="438.25" y1="338.75" x2="438.25" y2="338.76" stroke="#6a6a6a" stroke-width="1"/>
<line x1="436.25" y1="338.75" x2="440.25" y2="338.75" stroke="#6a6a6a" stroke-width="0.9"/>
<line x1="436.25" y1="356.25" x2="440.25" y2="356.25" stroke="#6a6a6a" stroke-width="0.9"/>
<line x1="438.25" y1="338.75" x2="438.25" y2="356.25" stroke="#6a6a6a" stroke-width="0.9"/>
<polygon points="336.75,268.09 340.66,275.71 332.84,275.71" fill="#fff" stroke="#333" stroke-width="0.8"/>
<polygon points="370.00,313.09 373.91,320.71 366.09,320.71" fill="#fff" stroke="#333" stroke-width="0.8"/>
<polygon points="404.50,342.84 408.41,350.46 400.59,350.46" fill="#fff" stroke="#333" stroke-width="0.8"/>
<polygon points="438.25,363.09 442.16,370.71 434.34,370.71" fill="#fff" stroke="#333" stroke-width="0.8"/>
<polygon points="472.00,373.09 475.91,380.71 468.09,380.71" fill="#fff" stroke="#333" stroke-width="0.8"/>
<rect x="333.75" y="269.00" width="6.00" height="6.00" fill="#fff" stroke="#222" stroke-width="0.8"/>
<rect x="367.00" y="332.50" width="6.00" height="6.00" fill="#fff" stroke="#222" stroke-width="0.8"/>
<rect x="401.50" y="362.00" width="6.00" height="6.00" fill="#fff" stroke="#222" stroke-width="0.8"/>
<rect x="435.25" y="373.25" width="6.00" height="6.00" fill="#fff" stroke="#222" stroke-width="0.8"/>
<rect x="469.00" y="375.00" width="6.00" height="6.00" fill="#fff" stroke="#222" stroke-width="0.8"/>
<rect x="333.35" y="268.60" width="6.8" height="6.8" fill="#000"/>
<rect x="366.60" y="296.60" width="6.8" height="6.8" fill="#000"/>
<rect x="401.10" y="319.85" width="6.8" height="6.8" fill="#000"/>
<rect x="434.85" y="344.60" width="6.8" height="6.8" fill="#000"/>
<rect x="468.60" y="360.35" width="6.8" height="6.8" fill="#000"/>
<line x1="417.5" y1="268" x2="442.5" y2="268" stroke="#7a7a7a" stroke-width="1.0"/>
<rect x="427.05" y="264.30" width="7.4" height="7.4" fill="#000"/>
<text x="457.5" y="270.1" font-size="8.4" text-anchor="start">OT-II</text>
<line x1="419.5" y1="284.25" x2="444.5" y2="284.25" stroke="#7a7a7a" stroke-width="1.0"/>
<polygon points="431.25,280.00 435.50,288.29 427.00,288.29" fill="#fff" stroke="#333" stroke-width="0.8"/>
<text x="456.25" y="287.1" font-size="8.4" text-anchor="start">OT-II OX40L-KO</text>
<rect x="427.10" y="300.50" width="1.7" height="1.5" fill="#111"/>
<rect x="436.20" y="300.50" width="1.7" height="1.5" fill="#111"/>
<rect x="422.55" y="300.50" width="1.7" height="1.5" fill="#111"/>
<rect x="440.75" y="300.50" width="1.7" height="1.5" fill="#111"/>
<rect x="418.00" y="300.50" width="1.7" height="1.5" fill="#111"/>
<rect x="445.30" y="300.50" width="1.7" height="1.5" fill="#111"/>
<rect x="429.20" y="297.95" width="6.60" height="6.60" fill="#fff" stroke="#222" stroke-width="0.8"/>
<text x="458" y="302.0" font-size="8.4" text-anchor="start">OT-II OX40-KO</text>
<line x1="52.6" y1="500" x2="52.6" y2="613.0" stroke="#8a8a8a" stroke-width="1"/>
<line x1="49.1" y1="500.4" x2="52.6" y2="500.4" stroke="#8a8a8a" stroke-width="1"/>
<line x1="49.1" y1="522.1" x2="52.6" y2="522.1" stroke="#8a8a8a" stroke-width="1"/>
<line x1="49.1" y1="545.4" x2="52.6" y2="545.4" stroke="#8a8a8a" stroke-width="1"/>
<line x1="49.1" y1="566.25" x2="52.6" y2="566.25" stroke="#8a8a8a" stroke-width="1"/>
<line x1="49.1" y1="588.5" x2="52.6" y2="588.5" stroke="#8a8a8a" stroke-width="1"/>
<line x1="49.5" y1="612.5" x2="210" y2="612.5" stroke="#8a8a8a" stroke-width="1"/>
<line x1="52.6" y1="612.5" x2="52.6" y2="614.5" stroke="#8a8a8a" stroke-width="1"/>
<line x1="78.8" y1="612.5" x2="78.8" y2="614.5" stroke="#8a8a8a" stroke-width="1"/>
<line x1="106.2" y1="612.5" x2="106.2" y2="614.5" stroke="#8a8a8a" stroke-width="1"/>
<line x1="132.5" y1="612.5" x2="132.5" y2="614.5" stroke="#8a8a8a" stroke-width="1"/>
<line x1="157.5" y1="612.5" x2="157.5" y2="614.5" stroke="#8a8a8a" stroke-width="1"/>
<line x1="183.8" y1="612.5" x2="183.8" y2="614.5" stroke="#8a8a8a" stroke-width="1"/>
<line x1="210" y1="612.5" x2="210" y2="614.5" stroke="#8a8a8a" stroke-width="1"/>
<text x="43.3" y="503.1" font-size="7.2" text-anchor="end">750</text>
<text x="43.3" y="524.7" font-size="7.2" text-anchor="end">600</text>
<text x="43.3" y="548" font-size="7.2" text-anchor="end">450</text>
<text x="43.3" y="568.8" font-size="7.2" text-anchor="end">300</text>
<text x="43.3" y="591.1" font-size="7.2" text-anchor="end">150</text>
<text x="44.7" y="613.0" font-size="7.2" text-anchor="end">0</text>
<text x="66.25" y="627" font-size="6.8" text-anchor="middle">0</text>
<text x="92.5" y="627" font-size="6.8" text-anchor="middle">3</text>
<text x="119.25" y="627" font-size="6.8" text-anchor="middle">6</text>
<text x="145.5" y="627" font-size="6.8" text-anchor="middle">9</text>
<text x="172" y="627" font-size="6.8" text-anchor="middle">12</text>
<text x="198.5" y="627" font-size="6.8" text-anchor="middle">15</text>
<text x="122.5" y="655.4" font-size="9.6" text-anchor="middle">Time (Days)</text>
<text x="0" y="0" font-size="9.6" text-anchor="middle" transform="translate(15.8,550.9) rotate(-90)">% Recovery</text>
<polyline points="65.00,597.60 92.00,532.50 118.25,555.00 144.80,579.50 170.60,590.00 197.30,598.75" fill="none" stroke="#7a7a7a" stroke-width="1.0"/>
<polyline points="65.00,596.60 92.00,540.00 118.25,581.25 144.80,602.20 170.60,605.50 197.30,608.80" fill="none" stroke="#111" stroke-width="1.4" stroke-dasharray="1.5 3.8"/>
<polyline points="65.00,596.60 92.00,519.50 118.25,533.00 144.80,551.25 170.60,569.50 197.30,583.25" fill="none" stroke="#7a7a7a" stroke-width="1.0"/>
<line x1="92" y1="527" x2="92" y2="527.01" stroke="#6a6a6a" stroke-width="1"/>
<line x1="90.0" y1="527" x2="94.0" y2="527" stroke="#6a6a6a" stroke-width="0.9"/>
<line x1="90.0" y1="537" x2="94.0" y2="537" stroke="#6a6a6a" stroke-width="0.9"/>
<line x1="92" y1="527" x2="92" y2="537" stroke="#6a6a6a" stroke-width="0.9"/>
<line x1="118.25" y1="547.5" x2="118.25" y2="547.51" stroke="#6a6a6a" stroke-width="1"/>
<line x1="116.25" y1="547.5" x2="120.25" y2="547.5" stroke="#6a6a6a" stroke-width="0.9"/>
<line x1="116.25" y1="563.75" x2="120.25" y2="563.75" stroke="#6a6a6a" stroke-width="0.9"/>
<line x1="118.25" y1="547.5" x2="118.25" y2="563.75" stroke="#6a6a6a" stroke-width="0.9"/>
<line x1="144.8" y1="572" x2="144.8" y2="572.01" stroke="#6a6a6a" stroke-width="1"/>
<line x1="142.8" y1="572" x2="146.8" y2="572" stroke="#6a6a6a" stroke-width="0.9"/>
<line x1="142.8" y1="587.5" x2="146.8" y2="587.5" stroke="#6a6a6a" stroke-width="0.9"/>
<line x1="144.8" y1="572" x2="144.8" y2="587.5" stroke="#6a6a6a" stroke-width="0.9"/>
<line x1="170.6" y1="586.25" x2="170.6" y2="586.26" stroke="#6a6a6a" stroke-width="1"/>
<line x1="168.6" y1="586.25" x2="172.6" y2="586.25" stroke="#6a6a6a" stroke-width="0.9"/>
<line x1="168.6" y1="594" x2="172.6" y2="594" stroke="#6a6a6a" stroke-width="0.9"/>
<line x1="170.6" y1="586.25" x2="170.6" y2="594" stroke="#6a6a6a" stroke-width="0.9"/>
<line x1="197.3" y1="595" x2="197.3" y2="595.01" stroke="#6a6a6a" stroke-width="1"/>
<line x1="195.3" y1="595" x2="199.3" y2="595" stroke="#6a6a6a" stroke-width="0.9"/>
<line x1="195.3" y1="602" x2="199.3" y2="602" stroke="#6a6a6a" stroke-width="0.9"/>
<line x1="197.3" y1="595" x2="197.3" y2="602" stroke="#6a6a6a" stroke-width="0.9"/>
<line x1="92" y1="536" x2="92" y2="536.01" stroke="#6a6a6a" stroke-width="1"/>
<line x1="90.0" y1="536" x2="94.0" y2="536" stroke="#6a6a6a" stroke-width="0.9"/>
<line x1="90.0" y1="546" x2="94.0" y2="546" stroke="#6a6a6a" stroke-width="0.9"/>
<line x1="92" y1="536" x2="92" y2="546" stroke="#6a6a6a" stroke-width="0.9"/>
<line x1="118.25" y1="575.5" x2="118.25" y2="575.51" stroke="#6a6a6a" stroke-width="1"/>
<line x1="116.25" y1="575.5" x2="120.25" y2="575.5" stroke="#6a6a6a" stroke-width="0.9"/>
<line x1="116.25" y1="587" x2="120.25" y2="587" stroke="#6a6a6a" stroke-width="0.9"/>
<line x1="118.25" y1="575.5" x2="118.25" y2="587" stroke="#6a6a6a" stroke-width="0.9"/>
<line x1="144.8" y1="597" x2="144.8" y2="597.01" stroke="#6a6a6a" stroke-width="1"/>
<line x1="142.8" y1="597" x2="146.8" y2="597" stroke="#6a6a6a" stroke-width="0.9"/>
<line x1="142.8" y1="608" x2="146.8" y2="608" stroke="#6a6a6a" stroke-width="0.9"/>
<line x1="144.8" y1="597" x2="144.8" y2="608" stroke="#6a6a6a" stroke-width="0.9"/>
<line x1="170.6" y1="600" x2="170.6" y2="600.01" stroke="#6a6a6a" stroke-width="1"/>
<line x1="168.6" y1="600" x2="172.6" y2="600" stroke="#6a6a6a" stroke-width="0.9"/>
<line x1="168.6" y1="608" x2="172.6" y2="608" stroke="#6a6a6a" stroke-width="0.9"/>
<line x1="170.6" y1="600" x2="170.6" y2="608" stroke="#6a6a6a" stroke-width="0.9"/>
<line x1="92" y1="513.75" x2="92" y2="513.76" stroke="#6a6a6a" stroke-width="1"/>
<line x1="90.0" y1="513.75" x2="94.0" y2="513.75" stroke="#6a6a6a" stroke-width="0.9"/>
<line x1="90.0" y1="525" x2="94.0" y2="525" stroke="#6a6a6a" stroke-width="0.9"/>
<line x1="92" y1="513.75" x2="92" y2="525" stroke="#6a6a6a" stroke-width="0.9"/>
<line x1="118.25" y1="526.25" x2="118.25" y2="526.26" stroke="#6a6a6a" stroke-width="1"/>
<line x1="116.25" y1="526.25" x2="120.25" y2="526.25" stroke="#6a6a6a" stroke-width="0.9"/>
<line x1="116.25" y1="541.25" x2="120.25" y2="541.25" stroke="#6a6a6a" stroke-width="0.9"/>
<line x1="118.25" y1="526.25" x2="118.25" y2="541.25" stroke="#6a6a6a" stroke-width="0.9"/>
<line x1="144.8" y1="543" x2="144.8" y2="543.01" stroke="#6a6a6a" stroke-width="1"/>
<line x1="142.8" y1="543" x2="146.8" y2="543" stroke="#6a6a6a" stroke-width="0.9"/>
<line x1="142.8" y1="559.5" x2="146.8" y2="559.5" stroke="#6a6a6a" stroke-width="0.9"/>
<line x1="144.8" y1="543" x2="144.8" y2="559.5" stroke="#6a6a6a" stroke-width="0.9"/>
<line x1="170.6" y1="562" x2="170.6" y2="562.01" stroke="#6a6a6a" stroke-width="1"/>
<line x1="168.6" y1="562" x2="172.6" y2="562" stroke="#6a6a6a" stroke-width="0.9"/>
<line x1="168.6" y1="578.25" x2="172.6" y2="578.25" stroke="#6a6a6a" stroke-width="0.9"/>
<line x1="170.6" y1="562" x2="170.6" y2="578.25" stroke="#6a6a6a" stroke-width="0.9"/>
<line x1="197.3" y1="580" x2="197.3" y2="580.01" stroke="#6a6a6a" stroke-width="1"/>
<line x1="195.3" y1="580" x2="199.3" y2="580" stroke="#6a6a6a" stroke-width="0.9"/>
<line x1="195.3" y1="586" x2="199.3" y2="586" stroke="#6a6a6a" stroke-width="0.9"/>
<line x1="197.3" y1="580" x2="197.3" y2="586" stroke="#6a6a6a" stroke-width="0.9"/>
<rect x="62.50" y="594.20" width="6.8" height="6.8" fill="#000"/>
<rect x="88.60" y="529.10" width="6.8" height="6.8" fill="#000"/>
<rect x="114.85" y="551.60" width="6.8" height="6.8" fill="#000"/>
<rect x="141.40" y="576.10" width="6.8" height="6.8" fill="#000"/>
<rect x="167.20" y="586.60" width="6.8" height="6.8" fill="#000"/>
<rect x="193.90" y="595.35" width="6.8" height="6.8" fill="#000"/>
<rect x="62.00" y="593.60" width="6.00" height="6.00" fill="#fff" stroke="#222" stroke-width="0.8"/>
<rect x="89.00" y="537.00" width="6.00" height="6.00" fill="#fff" stroke="#222" stroke-width="0.8"/>
<rect x="115.25" y="578.25" width="6.00" height="6.00" fill="#fff" stroke="#222" stroke-width="0.8"/>
<rect x="141.80" y="599.20" width="6.00" height="6.00" fill="#fff" stroke="#222" stroke-width="0.8"/>
<rect x="167.60" y="602.50" width="6.00" height="6.00" fill="#fff" stroke="#222" stroke-width="0.8"/>
<rect x="194.30" y="605.80" width="6.00" height="6.00" fill="#fff" stroke="#222" stroke-width="0.8"/>
<polygon points="65.00,593.20 68.30,599.60 61.70,599.60" fill="#fff" stroke="#333" stroke-width="0.8"/>
<polygon points="92.00,516.10 95.30,522.50 88.70,522.50" fill="#fff" stroke="#333" stroke-width="0.8"/>
<polygon points="118.25,529.60 121.55,536.00 114.95,536.00" fill="#fff" stroke="#333" stroke-width="0.8"/>
<polygon points="144.80,547.85 148.10,554.25 141.50,554.25" fill="#fff" stroke="#333" stroke-width="0.8"/>
<polygon points="170.60,566.10 173.90,572.50 167.30,572.50" fill="#fff" stroke="#333" stroke-width="0.8"/>
<polygon points="197.30,579.85 200.60,586.25 194.00,586.25" fill="#fff" stroke="#333" stroke-width="0.8"/>
<line x1="157" y1="504.3" x2="193" y2="504.3" stroke="#7a7a7a" stroke-width="1.0"/>
<polygon points="175.00,500.05 179.25,508.34 170.75,508.34" fill="#fff" stroke="#333" stroke-width="0.8"/>
<text x="202.5" y="506.1" font-size="8.4" text-anchor="start">MGP34+OX86</text>
<line x1="157" y1="520.9" x2="193" y2="520.9" stroke="#7a7a7a" stroke-width="1.0"/>
<rect x="171.30" y="517.20" width="7.4" height="7.4" fill="#000"/>
<text x="202" y="522.4" font-size="8.4" text-anchor="start">Cont IgG</text>
<rect x="168.85" y="536.25" width="1.7" height="1.5" fill="#111"/>
<rect x="177.95" y="536.25" width="1.7" height="1.5" fill="#111"/>
<rect x="164.30" y="536.25" width="1.7" height="1.5" fill="#111"/>
<rect x="182.50" y="536.25" width="1.7" height="1.5" fill="#111"/>
<rect x="159.75" y="536.25" width="1.7" height="1.5" fill="#111"/>
<rect x="187.05" y="536.25" width="1.7" height="1.5" fill="#111"/>
<rect x="170.95" y="533.70" width="6.60" height="6.60" fill="#fff" stroke="#222" stroke-width="0.8"/>
<text x="203.75" y="539.5" font-size="8.4" text-anchor="start">MGP34</text>
<line x1="324.5" y1="505" x2="324.5" y2="613.5" stroke="#8a8a8a" stroke-width="1"/>
<line x1="321.0" y1="505.5" x2="324.5" y2="505.5" stroke="#8a8a8a" stroke-width="1"/>
<line x1="321.0" y1="530" x2="324.5" y2="530" stroke="#8a8a8a" stroke-width="1"/>
<line x1="321.0" y1="555.75" x2="324.5" y2="555.75" stroke="#8a8a8a" stroke-width="1"/>
<line x1="321.0" y1="582.5" x2="324.5" y2="582.5" stroke="#8a8a8a" stroke-width="1"/>
<line x1="322" y1="613" x2="494.7" y2="613" stroke="#8a8a8a" stroke-width="1"/>
<line x1="324.5" y1="613" x2="324.5" y2="615" stroke="#8a8a8a" stroke-width="1"/>
<line x1="360.4" y1="613" x2="360.4" y2="615" stroke="#8a8a8a" stroke-width="1"/>
<line x1="392.7" y1="613" x2="392.7" y2="615" stroke="#8a8a8a" stroke-width="1"/>
<line x1="427.0" y1="613" x2="427.0" y2="615" stroke="#8a8a8a" stroke-width="1"/>
<line x1="460.9" y1="613" x2="460.9" y2="615" stroke="#8a8a8a" stroke-width="1"/>
<line x1="494.7" y1="613" x2="494.7" y2="615" stroke="#8a8a8a" stroke-width="1"/>
<text x="315.9" y="505.4" font-size="6.8" text-anchor="end">100</text>
<text x="315.6" y="532.5" font-size="6.8" text-anchor="end">75</text>
<text x="315.6" y="558.2" font-size="6.8" text-anchor="end">50</text>
<text x="315.6" y="585" font-size="6.8" text-anchor="end">25</text>
<text x="317.3" y="611.5" font-size="6.8" text-anchor="end">0</text>
<text x="343.7" y="627.7" font-size="6.8" text-anchor="middle">3</text>
<text x="378" y="627.7" font-size="6.8" text-anchor="middle">6</text>
<text x="411.8" y="627.7" font-size="6.8" text-anchor="middle">9</text>
<text x="445.4" y="627.7" font-size="6.8" text-anchor="middle">12</text>
<text x="479.9" y="627.7" font-size="6.8" text-anchor="middle">15</text>
<text x="399.5" y="656" font-size="9.6" text-anchor="middle">Time (Days)</text>
<text x="0" y="0" font-size="9.6" text-anchor="middle" transform="translate(298.75,551.9) rotate(-90)">% Survival</text>
<polyline points="341.25,506.25 375.75,565.75 409.50,597.40 443.00,605.00 477.40,609.30" fill="none" stroke="#111" stroke-width="1.3" stroke-dasharray="2.6 1.5"/>
<polyline points="341.25,506.25 375.75,519.50 409.50,541.25 443.00,563.25 477.40,581.20" fill="none" stroke="#7a7a7a" stroke-width="1.0"/>
<polyline points="341.25,506.00 375.75,542.00 409.50,571.00 443.00,588.00 477.40,597.40" fill="none" stroke="#7a7a7a" stroke-width="1.0"/>
<line x1="375.75" y1="556.25" x2="375.75" y2="556.26" stroke="#6a6a6a" stroke-width="1"/>
<line x1="373.75" y1="556.25" x2="377.75" y2="556.25" stroke="#6a6a6a" stroke-width="0.9"/>
<line x1="373.75" y1="575" x2="377.75" y2="575" stroke="#6a6a6a" stroke-width="0.9"/>
<line x1="375.75" y1="556.25" x2="375.75" y2="575" stroke="#6a6a6a" stroke-width="0.9"/>
<line x1="409.5" y1="588" x2="409.5" y2="588.01" stroke="#6a6a6a" stroke-width="1"/>
<line x1="407.5" y1="588" x2="411.5" y2="588" stroke="#6a6a6a" stroke-width="0.9"/>
<line x1="407.5" y1="606" x2="411.5" y2="606" stroke="#6a6a6a" stroke-width="0.9"/>
<line x1="409.5" y1="588" x2="409.5" y2="606" stroke="#6a6a6a" stroke-width="0.9"/>
<line x1="443" y1="601" x2="443" y2="601.01" stroke="#6a6a6a" stroke-width="1"/>
<line x1="441.0" y1="601" x2="445.0" y2="601" stroke="#6a6a6a" stroke-width="0.9"/>
<line x1="441.0" y1="609" x2="445.0" y2="609" stroke="#6a6a6a" stroke-width="0.9"/>
<line x1="443" y1="601" x2="443" y2="609" stroke="#6a6a6a" stroke-width="0.9"/>
<line x1="375.75" y1="508.75" x2="375.75" y2="508.76" stroke="#6a6a6a" stroke-width="1"/>
<line x1="373.75" y1="508.75" x2="377.75" y2="508.75" stroke="#6a6a6a" stroke-width="0.9"/>
<line x1="373.75" y1="530" x2="377.75" y2="530" stroke="#6a6a6a" stroke-width="0.9"/>
<line x1="375.75" y1="508.75" x2="375.75" y2="530" stroke="#6a6a6a" stroke-width="0.9"/>
<line x1="409.5" y1="530" x2="409.5" y2="530.01" stroke="#6a6a6a" stroke-width="1"/>
<line x1="407.5" y1="530" x2="411.5" y2="530" stroke="#6a6a6a" stroke-width="0.9"/>
<line x1="407.5" y1="550" x2="411.5" y2="550" stroke="#6a6a6a" stroke-width="0.9"/>
<line x1="409.5" y1="530" x2="409.5" y2="550" stroke="#6a6a6a" stroke-width="0.9"/>
<line x1="443" y1="552" x2="443" y2="552.01" stroke="#6a6a6a" stroke-width="1"/>
<line x1="441.0" y1="552" x2="445.0" y2="552" stroke="#6a6a6a" stroke-width="0.9"/>
<line x1="441.0" y1="571.25" x2="445.0" y2="571.25" stroke="#6a6a6a" stroke-width="0.9"/>
<line x1="443" y1="552" x2="443" y2="571.25" stroke="#6a6a6a" stroke-width="0.9"/>
<line x1="477.4" y1="572.5" x2="477.4" y2="572.51" stroke="#6a6a6a" stroke-width="1"/>
<line x1="475.4" y1="572.5" x2="479.4" y2="572.5" stroke="#6a6a6a" stroke-width="0.9"/>
<line x1="475.4" y1="586.25" x2="479.4" y2="586.25" stroke="#6a6a6a" stroke-width="0.9"/>
<line x1="477.4" y1="572.5" x2="477.4" y2="586.25" stroke="#6a6a6a" stroke-width="0.9"/>
<line x1="375.75" y1="535.5" x2="375.75" y2="535.51" stroke="#6a6a6a" stroke-width="1"/>
<line x1="373.75" y1="535.5" x2="377.75" y2="535.5" stroke="#6a6a6a" stroke-width="0.9"/>
<line x1="373.75" y1="548" x2="377.75" y2="548" stroke="#6a6a6a" stroke-width="0.9"/>
<line x1="375.75" y1="535.5" x2="375.75" y2="548" stroke="#6a6a6a" stroke-width="0.9"/>
<line x1="409.5" y1="560" x2="409.5" y2="560.01" stroke="#6a6a6a" stroke-width="1"/>
<line x1="407.5" y1="560" x2="411.5" y2="560" stroke="#6a6a6a" stroke-width="0.9"/>
<line x1="407.5" y1="581.25" x2="411.5" y2="581.25" stroke="#6a6a6a" stroke-width="0.9"/>
<line x1="409.5" y1="560" x2="409.5" y2="581.25" stroke="#6a6a6a" stroke-width="0.9"/>
<line x1="443" y1="576.25" x2="443" y2="576.26" stroke="#6a6a6a" stroke-width="1"/>
<line x1="441.0" y1="576.25" x2="445.0" y2="576.25" stroke="#6a6a6a" stroke-width="0.9"/>
<line x1="441.0" y1="599" x2="445.0" y2="599" stroke="#6a6a6a" stroke-width="0.9"/>
<line x1="443" y1="576.25" x2="443" y2="599" stroke="#6a6a6a" stroke-width="0.9"/>
<line x1="477.4" y1="592" x2="477.4" y2="592.01" stroke="#6a6a6a" stroke-width="1"/>
<line x1="475.4" y1="592" x2="479.4" y2="592" stroke="#6a6a6a" stroke-width="0.9"/>
<line x1="475.4" y1="603" x2="479.4" y2="603" stroke="#6a6a6a" stroke-width="0.9"/>
<line x1="477.4" y1="592" x2="477.4" y2="603" stroke="#6a6a6a" stroke-width="0.9"/>
<rect x="338.25" y="503.25" width="6.00" height="6.00" fill="#fff" stroke="#222" stroke-width="0.8"/>
<rect x="372.75" y="562.75" width="6.00" height="6.00" fill="#fff" stroke="#222" stroke-width="0.8"/>
<rect x="406.50" y="594.40" width="6.00" height="6.00" fill="#fff" stroke="#222" stroke-width="0.8"/>
<rect x="440.00" y="602.00" width="6.00" height="6.00" fill="#fff" stroke="#222" stroke-width="0.8"/>
<rect x="474.40" y="606.30" width="6.00" height="6.00" fill="#fff" stroke="#222" stroke-width="0.8"/>
<polygon points="375.75,514.80 379.65,523.80 371.85,523.80" fill="#fff" stroke="#333" stroke-width="0.8"/>
<polygon points="409.50,536.55 413.40,545.55 405.60,545.55" fill="#fff" stroke="#333" stroke-width="0.8"/>
<polygon points="443.00,558.55 446.90,567.55 439.10,567.55" fill="#fff" stroke="#333" stroke-width="0.8"/>
<polygon points="477.40,576.50 481.30,585.50 473.50,585.50" fill="#fff" stroke="#333" stroke-width="0.8"/>
<rect x="337.35" y="502.10" width="7.8" height="7.8" fill="#000"/>
<rect x="372.35" y="538.60" width="6.8" height="6.8" fill="#000"/>
<rect x="406.10" y="567.60" width="6.8" height="6.8" fill="#000"/>
<rect x="439.60" y="584.60" width="6.8" height="6.8" fill="#000"/>
<rect x="474.00" y="594.00" width="6.8" height="6.8" fill="#000"/>
<line x1="410" y1="486.5" x2="445.5" y2="486.5" stroke="#7a7a7a" stroke-width="1.0"/>
<polygon points="428.50,480.20 432.35,489.20 424.65,489.20" fill="#fff" stroke="#333" stroke-width="0.8"/>
<text x="454.25" y="487.9" font-size="8.4" text-anchor="start">MGP34+OX86</text>
<line x1="410" y1="503.5" x2="445.5" y2="503.5" stroke="#7a7a7a" stroke-width="1.0"/>
<rect x="424.30" y="499.80" width="7.4" height="7.4" fill="#000"/>
<text x="455.5" y="504.4" font-size="8.4" text-anchor="start">Cont IgG</text>
<rect x="423.60" y="519.65" width="1.7" height="1.5" fill="#111"/>
<rect x="432.70" y="519.65" width="1.7" height="1.5" fill="#111"/>
<rect x="419.05" y="519.65" width="1.7" height="1.5" fill="#111"/>
<rect x="437.25" y="519.65" width="1.7" height="1.5" fill="#111"/>
<rect x="414.50" y="519.65" width="1.7" height="1.5" fill="#111"/>
<rect x="441.80" y="519.65" width="1.7" height="1.5" fill="#111"/>
<rect x="425.70" y="517.10" width="6.60" height="6.60" fill="#fff" stroke="#222" stroke-width="0.8"/>
<text x="457.5" y="522.8" font-size="8.4" text-anchor="start">MGP34</text>
<text x="72.5" y="693.3" font-size="9.4" text-anchor="middle">Antibody</text>
<text x="24.3" y="722.0" font-size="9.5" text-anchor="middle">0-3 days</text>
<text x="82.8" y="722.0" font-size="9.5" text-anchor="middle">4-10 days</text>
<line x1="0" y1="731.6" x2="111" y2="731.6" stroke="#8a8a8a" stroke-width="1"/>
<line x1="0" y1="836.3" x2="111.5" y2="836.3" stroke="#8a8a8a" stroke-width="1"/>
<line x1="53.9" y1="731.6" x2="53.9" y2="836.3" stroke="#8a8a8a" stroke-width="1"/>
<text x="24.8" y="747.2" font-size="9.5" text-anchor="middle">Cont IgG</text>
<text x="82.3" y="747.2" font-size="9.5" text-anchor="middle">Cont IgG</text>
<text x="20.8" y="775.1" font-size="9.5" text-anchor="middle">MGP34</text>
<text x="84.5" y="772.9" font-size="9.5" text-anchor="middle">Cont IgG</text>
<text x="25.4" y="800.9" font-size="9.5" text-anchor="middle">Cont IgG</text>
<text x="81.5" y="801.6" font-size="9.5" text-anchor="middle">MGP34</text>
<text x="22.5" y="826.6" font-size="9.5" text-anchor="middle">MGP34</text>
<text x="82.3" y="826.6" font-size="9.5" text-anchor="middle">MGP34</text>
<line x1="116.2" y1="728" x2="116.2" y2="836.8" stroke="#8a8a8a" stroke-width="1"/>
<line x1="116.2" y1="836.5" x2="265.5" y2="836.5" stroke="#8a8a8a" stroke-width="1"/>
<line x1="116.2" y1="836.5" x2="116.2" y2="838.5" stroke="#8a8a8a" stroke-width="1"/>
<line x1="146.1" y1="836.5" x2="146.1" y2="838.5" stroke="#8a8a8a" stroke-width="1"/>
<line x1="176.0" y1="836.5" x2="176.0" y2="838.5" stroke="#8a8a8a" stroke-width="1"/>
<line x1="205.8" y1="836.5" x2="205.8" y2="838.5" stroke="#8a8a8a" stroke-width="1"/>
<line x1="235.7" y1="836.5" x2="235.7" y2="838.5" stroke="#8a8a8a" stroke-width="1"/>
<line x1="265.5" y1="836.5" x2="265.5" y2="838.5" stroke="#8a8a8a" stroke-width="1"/>
<text x="117.7" y="854.0" font-size="6.6" text-anchor="middle">0</text>
<text x="147.5" y="854.0" font-size="6.6" text-anchor="middle">50</text>
<text x="177.5" y="854.0" font-size="6.6" text-anchor="middle">100</text>
<text x="207.5" y="854.0" font-size="6.6" text-anchor="middle">150</text>
<text x="237.0" y="854.0" font-size="6.6" text-anchor="middle">200</text>
<text x="267.5" y="854.0" font-size="6.6" text-anchor="middle">250</text>
<text x="193.6" y="878.3" font-size="9.4" text-anchor="middle">% Recovery</text>
<rect x="116.2" y="732.80" width="125.05" height="8.2" fill="#000"/>
<rect x="116.2" y="741.20" width="95.05" height="7.4" fill="#fff" stroke="#888" stroke-width="0.9"/>
<line x1="241.25" y1="737.05" x2="251.25" y2="737.05" stroke="#6a6a6a" stroke-width="0.8"/>
<line x1="251.25" y1="735.5" x2="251.25" y2="738.5999999999999" stroke="#6a6a6a" stroke-width="0.8"/>
<line x1="211.25" y1="744.9" x2="218.75" y2="744.9" stroke="#6a6a6a" stroke-width="0.8"/>
<line x1="218.75" y1="743.4" x2="218.75" y2="746.4" stroke="#6a6a6a" stroke-width="0.8"/>
<rect x="116.2" y="760.10" width="62.05" height="8.2" fill="#000"/>
<rect x="116.2" y="768.50" width="57.55" height="7.4" fill="#fff" stroke="#888" stroke-width="0.9"/>
<line x1="178.25" y1="764.35" x2="183.75" y2="764.35" stroke="#6a6a6a" stroke-width="0.8"/>
<line x1="183.75" y1="762.8000000000001" x2="183.75" y2="765.9" stroke="#6a6a6a" stroke-width="0.8"/>
<line x1="173.75" y1="772.2" x2="179.5" y2="772.2" stroke="#6a6a6a" stroke-width="0.8"/>
<line x1="179.5" y1="770.7" x2="179.5" y2="773.7" stroke="#6a6a6a" stroke-width="0.8"/>
<rect x="116.2" y="787.40" width="46.30" height="8.2" fill="#000"/>
<rect x="116.2" y="795.80" width="43.30" height="7.4" fill="#fff" stroke="#888" stroke-width="0.9"/>
<line x1="162.5" y1="791.65" x2="166.25" y2="791.65" stroke="#6a6a6a" stroke-width="0.8"/>
<line x1="166.25" y1="790.1" x2="166.25" y2="793.1999999999999" stroke="#6a6a6a" stroke-width="0.8"/>
<line x1="159.5" y1="799.5" x2="163.75" y2="799.5" stroke="#6a6a6a" stroke-width="0.8"/>
<line x1="163.75" y1="798.0" x2="163.75" y2="801.0" stroke="#6a6a6a" stroke-width="0.8"/>
<rect x="116.2" y="814.70" width="27.55" height="8.2" fill="#000"/>
<rect x="116.2" y="823.10" width="25.55" height="7.4" fill="#fff" stroke="#888" stroke-width="0.9"/>
<line x1="143.75" y1="818.95" x2="148" y2="818.95" stroke="#6a6a6a" stroke-width="0.8"/>
<line x1="148" y1="817.4000000000001" x2="148" y2="820.5" stroke="#6a6a6a" stroke-width="0.8"/>
<line x1="141.75" y1="826.8000000000001" x2="145" y2="826.8000000000001" stroke="#6a6a6a" stroke-width="0.8"/>
<line x1="145" y1="825.3000000000001" x2="145" y2="828.3000000000001" stroke="#6a6a6a" stroke-width="0.8"/>
<rect x="221.9" y="764.4" width="4.6" height="4.9" fill="#000"/>
<rect x="222.6" y="779.6" width="4.3" height="4.7" fill="#fff" stroke="#555" stroke-width="0.8"/>
<text x="234.6" y="771.0" font-size="9.75" text-anchor="start">Wt APC</text>
<text x="234.2" y="784.8" font-size="9.75" text-anchor="start">OX40L-KO APC</text>
</svg>
</body></html>
